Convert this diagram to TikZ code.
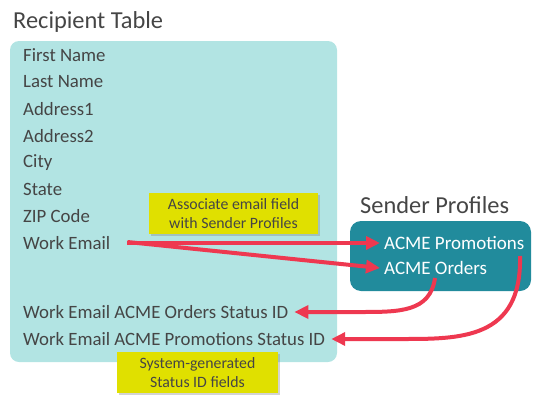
\documentclass[tikz,border=0pt]{standalone}
\usepackage{fontspec}
\setmainfont{Carlito}
\usetikzlibrary{arrows.meta,shadows}
\definecolor{tablefill}{HTML}{B2E4E3}
\definecolor{senderfill}{HTML}{218B9C}
\definecolor{notefill}{HTML}{E0E000}
\definecolor{linkred}{HTML}{EE3850}
\definecolor{textgrey}{HTML}{454545}
\tikzstyle{title} = [anchor=west,inner sep=0pt,text=textgrey,font=\fontsize{24.4}{28}\selectfont]
\tikzstyle{field} = [anchor=west,inner sep=0pt,text=textgrey,font=\fontsize{18.8}{22}\selectfont]
\tikzstyle{profile} = [anchor=west,inner sep=0pt,text=white,font=\fontsize{19}{22}\selectfont]
\tikzstyle{note} = [fill=notefill,inner sep=0pt,align=center,text=textgrey,
    font=\fontsize{15.8}{19}\selectfont,drop shadow={shadow xshift=2pt,shadow yshift=-2pt,opacity=0.35}]
\tikzstyle{link} = [draw=linkred,line width=4pt,-{Triangle[length=14pt,width=13pt]}]

\begin{document}
\begin{tikzpicture}[x=1pt,y=-1pt]
    \useasboundingbox (0,0) rectangle (544,402);
    % The two boxes
    \fill[tablefill,rounded corners=9pt] (10,41) rectangle (337,362);
    \fill[senderfill,rounded corners=11pt] (350,221) rectangle (531,291);
    \node[title] (rtitle) at (13,22) {Recipient Table};
    \node[title] (stitle) at (360,205) {Sender Profiles};

    % Fields of the recipient table
    \foreach \y/\name/\text in {55/first/First Name,82/last/Last Name,109/addr1/Address1,
        136/addr2/Address2,163/city/City,189/state/State,216/zip/ZIP Code,243/email/Work Email,
        312/ordid/Work Email ACME Orders Status ID,339/promid/Work Email ACME Promotions Status ID}
        \node[field] (\name) at (23,\y) {\text};

    % Sender profiles
    \node[profile] (prom) at (384,243) {ACME Promotions};
    \node[profile] (ord) at (384,268) {ACME Orders};

    % Notes
    \node[note,minimum width=169pt,minimum height=41pt] (assoc) at (233.5,213.5)
        {Associate email field\\with Sender Profiles};
    \node[note,minimum width=161pt,minimum height=41pt] (sysgen) at (197.5,372.5)
        {System-generated\\Status ID fields};

    % Connect the fields
    \coordinate (emailout) at ([xshift=17pt]email.east);
    \path[link] (emailout) -- ([xshift=-4pt]prom.west);
    \path[link] ([yshift=1pt]emailout) -- ([xshift=-4pt]ord.west);
    \path[link] (435,278) .. controls (430,312) and (400,312) .. (360,312) -- ([xshift=6pt]ordid.east);
    \path[link] (520,256) .. controls (522,340) and (460,339) .. (400,339) -- ([xshift=6pt]promid.east);
\end{tikzpicture}
\end{document}
